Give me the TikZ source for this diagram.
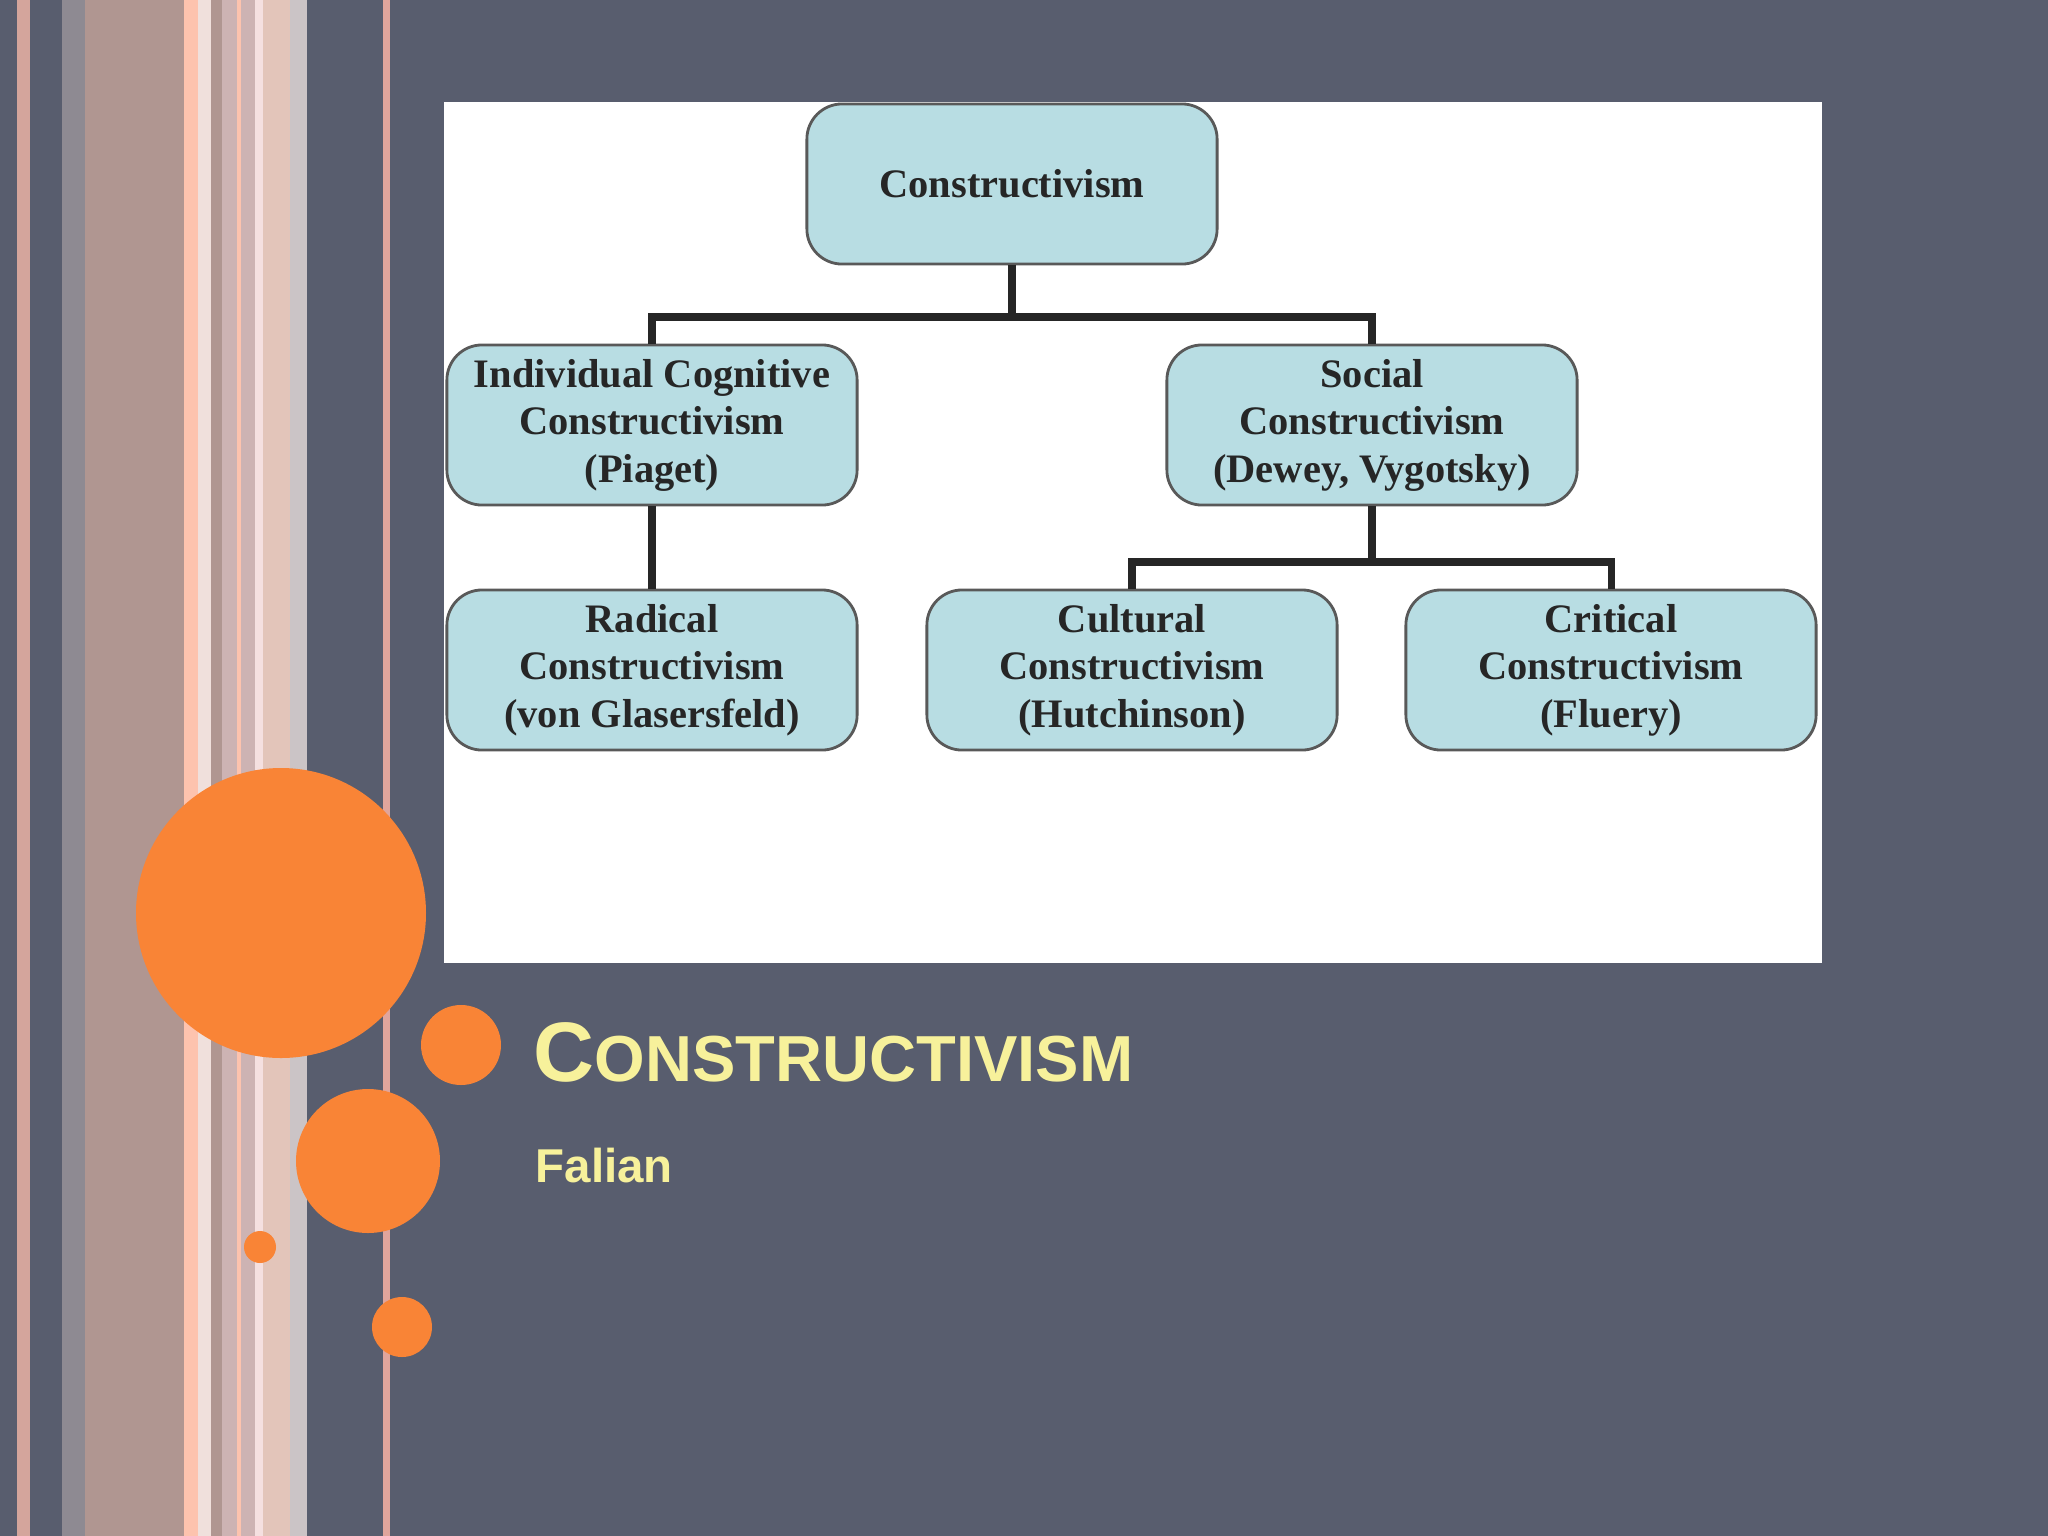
\documentclass[tikz,border=0pt]{standalone}
\usepackage{fontspec}
\setmainfont{Liberation Serif}
\newfontfamily\titlefont{Liberation Sans}
\newcommand\mystripe[3]{\definecolor{tmpc}{HTML}{#1}\fill[tmpc] (#2,0) rectangle (#3,1536);}
\begin{document}
\begin{tikzpicture}[x=0.01cm,y=-0.01cm,
  box/.style={draw=gray!70!black,line width=0.8pt,fill=boxc,rounded corners=10pt,minimum width=4.1cm,minimum height=1.6cm,align=center,font=\fontsize{11.5}{13.5}\selectfont\bfseries,text=black!85},
  conn/.style={line width=2pt,black!85},
  dot/.style={fill=orangec,draw=none}]
\definecolor{bg}{HTML}{585D6E}
\definecolor{boxc}{HTML}{B8DDE3}
\definecolor{orangec}{HTML}{F98436}
\definecolor{titc}{HTML}{F7F19B}
\useasboundingbox (0,0) rectangle (2048,1536);
\fill[bg] (0,0) rectangle (2048,1536);
\mystripe{D4A59C}{17}{30}
\mystripe{8E8A92}{62}{85}
\mystripe{B09691}{85}{184}
\mystripe{FDC3AE}{184}{198}
\mystripe{F0E0DC}{198}{211}
\mystripe{B09691}{211}{222}
\mystripe{CDB3B3}{222}{237}
\mystripe{FDC3AE}{237}{241}
\mystripe{CDB3B3}{241}{255}
\mystripe{F5E0E0}{255}{263}
\mystripe{E3C5BA}{263}{290}
\mystripe{CBC4C6}{290}{307}
\mystripe{E0A59C}{383}{390}
% image
\fill[white] (444,102) rectangle (1822,963);
\node[box] (c) at (1012,184) {Constructivism};
\node[box] (ic) at (652,425) {Individual Cognitive\\Constructivism\\(Piaget)};
\node[box] (sc) at (1372,425) {Social\\Constructivism\\(Dewey, Vygotsky)};
\node[box] (rc) at (652,670) {Radical\\Constructivism\\(von Glasersfeld)};
\node[box] (cc) at (1132,670) {Cultural\\Constructivism\\(Hutchinson)};
\node[box] (kc) at (1611,670) {Critical\\Constructivism\\(Fluery)};
\coordinate (j1) at (1012,317);
\coordinate (j2) at (1372,562);
\draw[conn] (c.south) -- (j1);
\draw[conn] (ic.north) |- (j1) -| (sc.north);
\draw[conn] (ic.south) -- (rc.north);
\draw[conn] (sc.south) -- (j2);
\draw[conn] (cc.north) |- (j2) -| (kc.north);
% circles
\fill[dot] (281,913) circle (145);
\fill[dot] (461,1045) circle (40);
\fill[dot] (368,1161) circle (72);
\fill[dot] (260,1247) circle (16);
\fill[dot] (402,1327) circle (30);
\node[anchor=base west,text=titc,font=\titlefont\bfseries,inner sep=0] (t) at (533,1081) {\fontsize{24}{28}\selectfont C\fontsize{18.5}{22}\selectfont ONSTRUCTIVISM};
\node[anchor=base west,text=titc,font=\titlefont\bfseries\fontsize{13.5}{16}\selectfont,inner sep=0] (s) at (535,1182) {Falian};
\end{tikzpicture}
\end{document}
